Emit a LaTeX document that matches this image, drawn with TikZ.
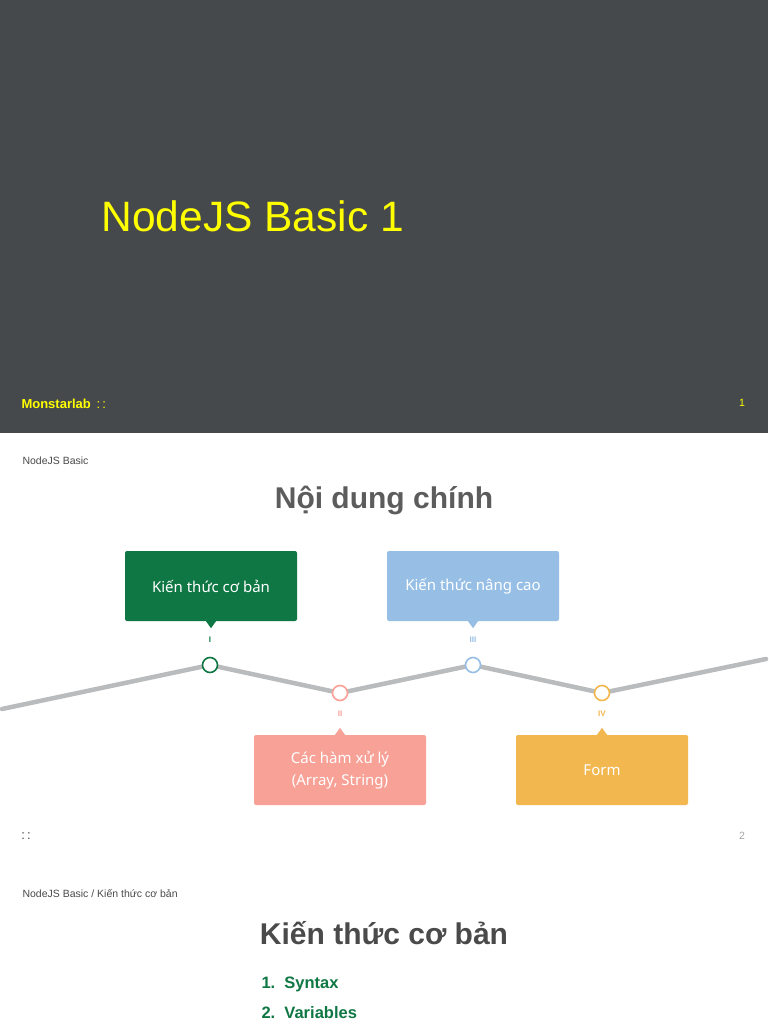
\documentclass[tikz,border=0pt]{standalone}
\usepackage{fontspec}
\setmainfont{Liberation Sans}
\newfontfamily\rob{Noto Sans}
\definecolor{bgd}{HTML}{46494C}
\definecolor{ylw}{HTML}{FFFF00}
\definecolor{gr}{HTML}{0F7743}
\definecolor{bl}{HTML}{97BFE6}
\definecolor{pk}{HTML}{F8A197}
\definecolor{og}{HTML}{F2B74F}
\definecolor{txt}{HTML}{4A4A4A}
\definecolor{ln}{HTML}{B9BBBD}
\tikzset{card/.style={minimum width=172pt,minimum height=70pt,inner sep=0pt,rounded corners=2pt,text=white,font=\rob\fontsize{15}{22}\selectfont,align=center},
dot/.style={circle,draw,line width=1.6pt,fill=white,minimum size=15pt,inner sep=0pt},
tiny/.style={font=\bfseries\fontsize{8}{9}\selectfont}}
\begin{document}
\begin{tikzpicture}[x=1pt,y=-1pt]
\useasboundingbox (0,0) rectangle (768,1024);
\fill[white] (0,0) rectangle (768,1024);
\fill[bgd] (0,0) rectangle (768,433);
\node[anchor=west,text=ylw,font=\fontsize{42.5}{48}\selectfont] (t1) at (98,216) {NodeJS Basic 1};
\node[anchor=west,text=ylw,font=\bfseries\fontsize{13}{15}\selectfont] (ml) at (18,404) {Monstarlab \,\textmd{:\,:}};
\node[text=ylw,font=\fontsize{10.5}{12}\selectfont] (p1) at (742,403) {1};
% slide 2
\node[anchor=west,text=txt,font=\fontsize{10.5}{12}\selectfont] (bc2) at (19,461) {NodeJS Basic};
\node[text=txt!90,font=\bfseries\fontsize{30}{36}\selectfont] (t2) at (384,500) {Nội dung chính};
\coordinate (s) at (2,709); \coordinate (e) at (766,659);
\coordinate (q1) at (210,665);
\coordinate (q2) at (340,693);
\coordinate (q3) at (473,665);
\coordinate (q4) at (602,693);
\draw[ln,line width=4.5pt,line cap=round] (s) -- (q1) -- (q2) -- (q3) -- (q4) -- (e);
\node[dot,draw=gr] (d1) at (q1) {};
\node[dot,draw=pk] (d2) at (q2) {};
\node[dot,draw=bl] (d3) at (q3) {};
\node[dot,draw=og] (d4) at (q4) {};
\node[card,fill=gr] (c1) at (211,586) {Kiến thức cơ bản};
\node[card,fill=bl] (c3) at (473,586) {Kiến thức nâng cao};
\node[card,fill=pk] (c2) at (340,770) {Các hàm xử lý\\(Array, String)};
\node[card,fill=og] (c4) at (602,770) {Form};
\fill[gr] (c1.south)++(-5,0) -- ++(10,0) -- ++(-5,7) -- cycle;
\fill[bl] (c3.south)++(-5,0) -- ++(10,0) -- ++(-5,7) -- cycle;
\fill[pk] (c2.north)++(-5,0) -- ++(10,0) -- ++(-5,-7) -- cycle;
\fill[og] (c4.north)++(-5,0) -- ++(10,0) -- ++(-5,-7) -- cycle;
\node[tiny,text=gr] (l1) at (210,640) {I};
\node[tiny,text=bl] (l3) at (473,640) {III};
\node[tiny,text=pk] (l2) at (340,714) {II};
\node[tiny,text=og] (l4) at (602,714) {IV};
\node[text=txt,font=\fontsize{13}{15}\selectfont] (lg2) at (26,836) {:\,:};
\node[text=gray!70,font=\fontsize{10.5}{12}\selectfont] (p2) at (742,836) {2};
% slide 3
\node[anchor=west,text=txt,font=\fontsize{10.5}{12}\selectfont] (bc3) at (19,894) {NodeJS Basic / Kiến thức cơ bản};
\node[text=txt,font=\bfseries\fontsize{30}{36}\selectfont] (t3) at (384,933) {Kiến thức cơ bản};
\node[anchor=west,text=gr,font=\bfseries\fontsize{16.5}{20}\selectfont] (i1) at (258,984) {1.\ \ Syntax};
\node[anchor=west,text=gr,font=\bfseries\fontsize{16.5}{20}\selectfont] (i2) at (258,1013) {2.\ \ Variables};
\end{tikzpicture}
\end{document}
